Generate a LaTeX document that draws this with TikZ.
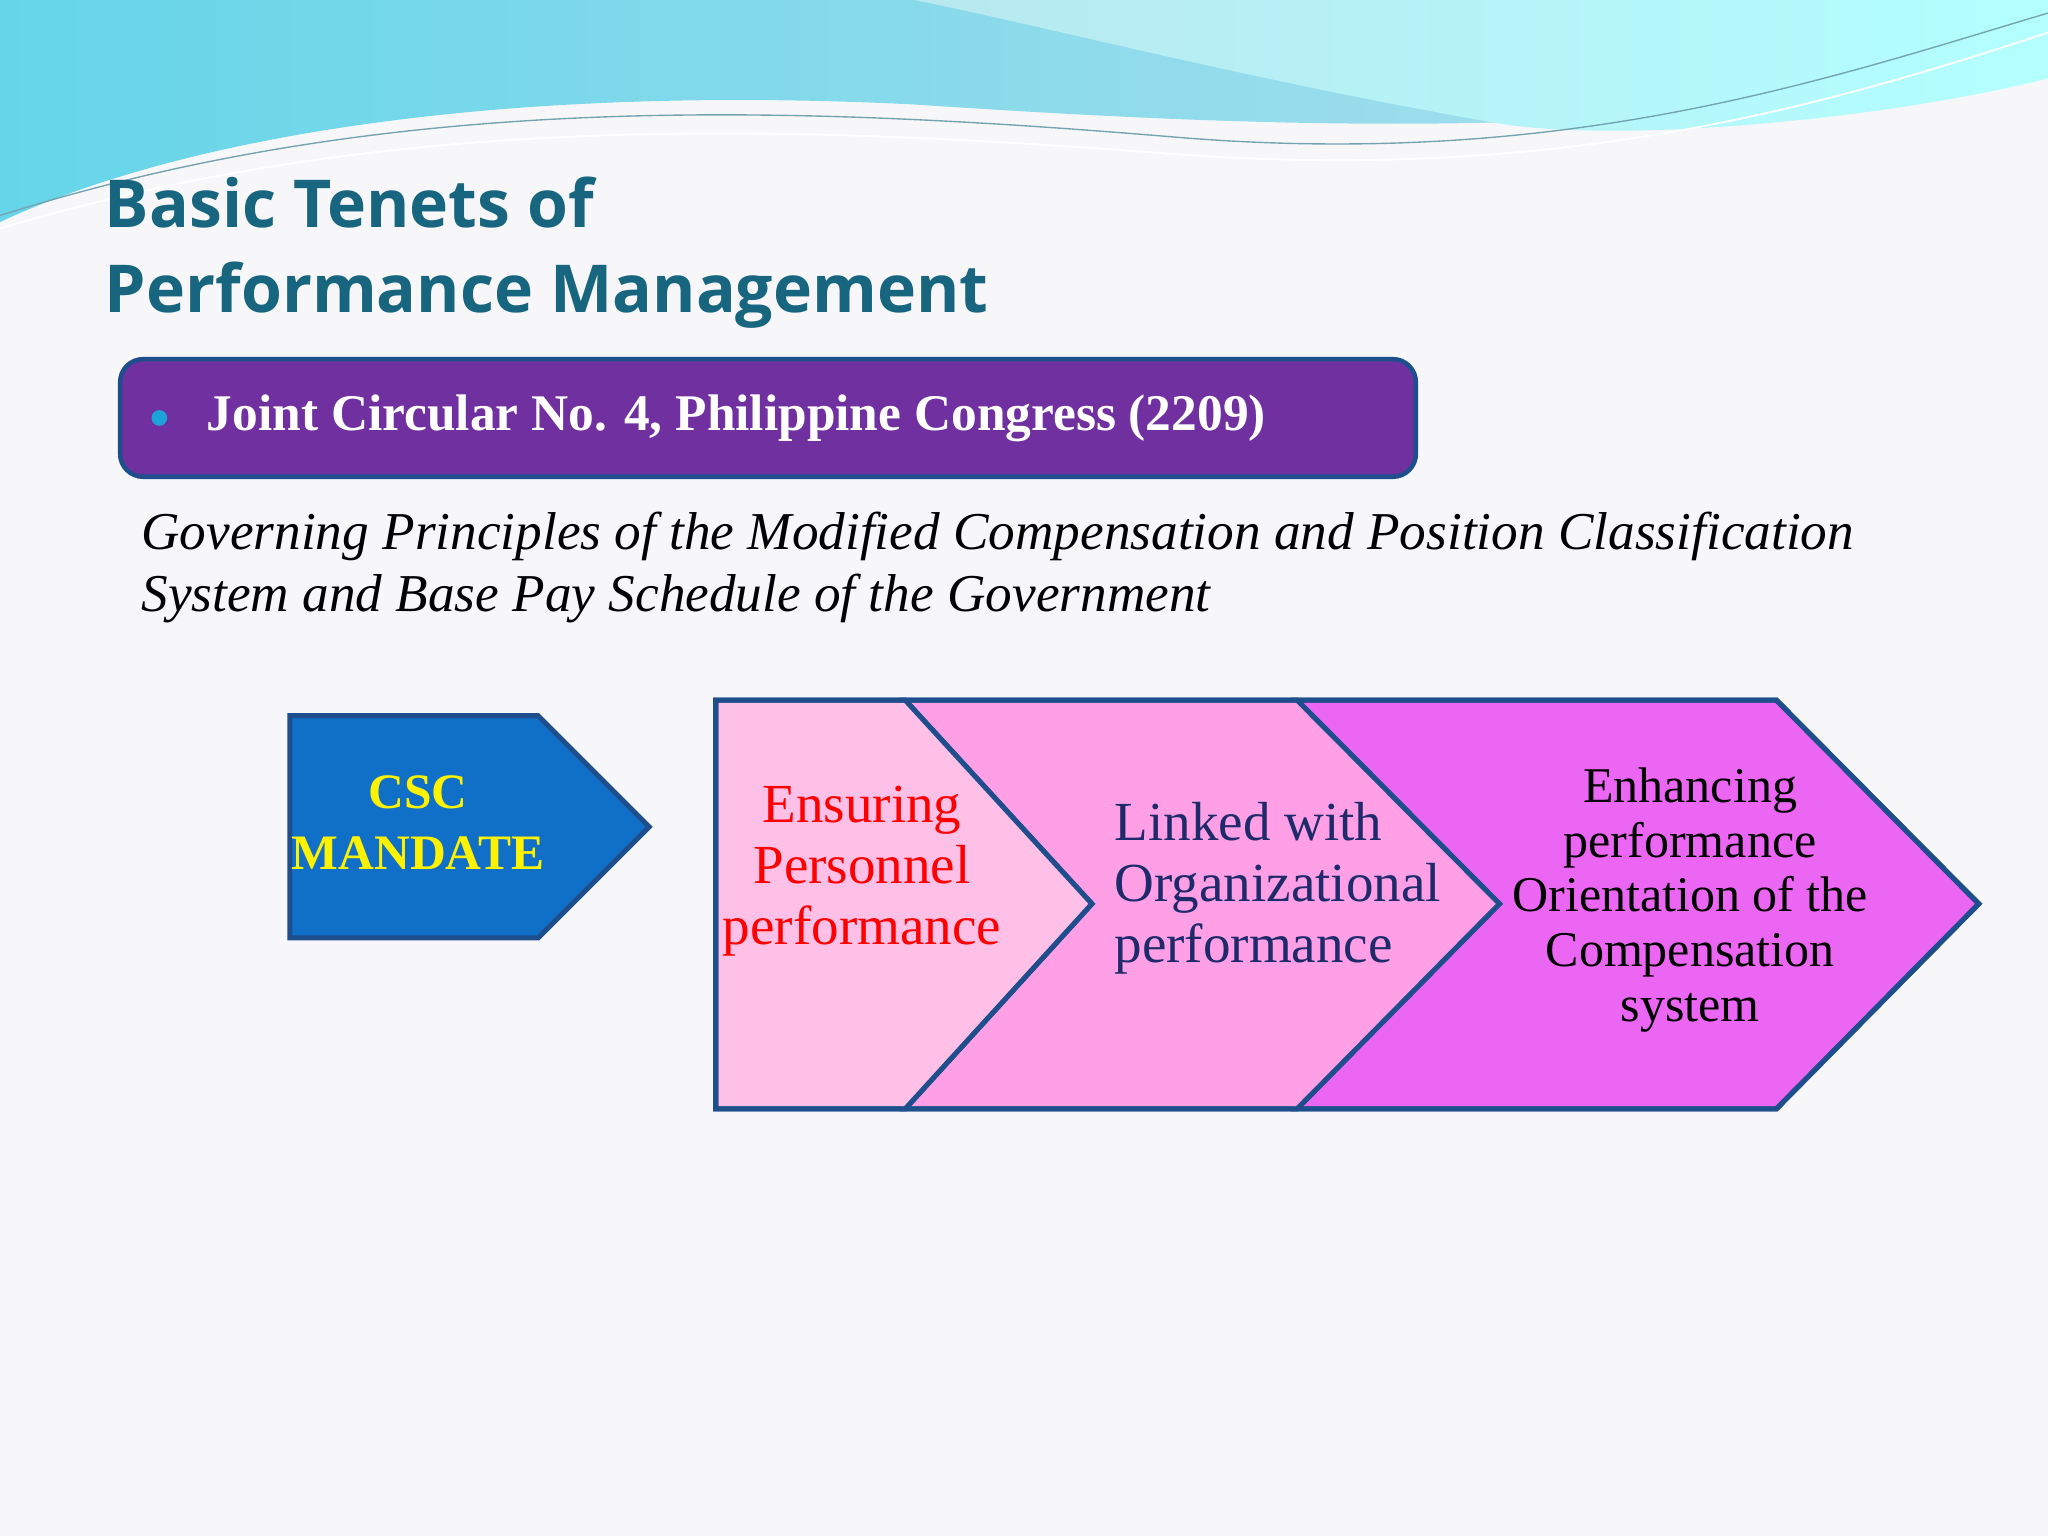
\documentclass[tikz,border=0pt]{standalone}
\usepackage{fontspec}
\setmainfont{Liberation Serif}
\newfontfamily\titlefont{Open Sans}
\usetikzlibrary{calc}
\definecolor{bg}{HTML}{F7F7FA}
\definecolor{teal}{HTML}{17657E}
\definecolor{purp}{HTML}{7030A0}
\definecolor{edge}{HTML}{1F4E8C}
\definecolor{cscblue}{HTML}{1070C8}
\definecolor{pink1}{HTML}{FFC0E8}
\definecolor{pink2}{HTML}{FFA0E6}
\definecolor{pink3}{HTML}{EC66F4}
\definecolor{navy}{HTML}{1F2A6B}
\definecolor{wave1}{HTML}{7FCBE3}
\definecolor{wave2}{HTML}{B8E8F0}
\tikzset{x=0.02cm,y=-0.02cm,
 seg/.style={draw=edge,line width=2.2pt,line join=miter},
 lbl/.style={font=\fontsize{24}{26.6}\selectfont,align=center,inner sep=0}}
\begin{document}
\begin{tikzpicture}
\fill[bg] (0,0) rectangle (1568,1176);
\useasboundingbox (0,0) rectangle (1568,1176);
% waves
\shade[left color=wave1!80!cyan,right color=wave1!60] (0,0) -- (1568,0) -- (1568,40) .. controls (1300,110) and (1000,100) .. (700,80) .. controls (400,65) and (150,100) .. (0,170) -- cycle;
\shade[left color=wave2,right color=cyan!30] (700,0) -- (1568,0) -- (1568,60) .. controls (1450,90) and (1250,110) .. (1150,95) .. controls (950,60) and (800,20) .. (700,0) -- cycle;
\draw[teal!60,line width=0.6pt] (0,165) .. controls (300,70) and (600,80) .. (900,105) .. controls (1200,130) and (1400,60) .. (1568,10);
\draw[white,line width=0.8pt] (0,175) .. controls (300,85) and (600,95) .. (900,118) .. controls (1200,140) and (1400,80) .. (1568,25);
% title
\node[anchor=west,text=teal,font=\titlefont\bfseries\fontsize{28.8}{34}\selectfont,inner sep=0] (t1) at (80,155) {Basic Tenets of};
\node[anchor=west,text=teal,font=\titlefont\bfseries\fontsize{28.8}{34}\selectfont,inner sep=0] (t2) at (80,226) {Performance Management};
% purple bar
\draw[fill=purp,draw=edge,line width=2pt,rounded corners=10] (92,275) rectangle (1084,365);
\fill[cyan!80!teal] (122,320) circle (6);
\node[anchor=west,text=white,font=\bfseries\fontsize{22.4}{26}\selectfont,inner sep=0] (jc) at (158,320) {Joint Circular No. 4, Philippine Congress (2209)};
\node[anchor=west,font=\itshape\fontsize{23.2}{26}\selectfont,inner sep=0] (g1) at (108,411) {Governing Principles of the Modified Compensation and Position Classification};
\node[anchor=west,font=\itshape\fontsize{23.2}{26}\selectfont,inner sep=0] (g2) at (108,458) {System and Base Pay Schedule of the Government};
% CSC arrow
\draw[seg,fill=cscblue] (222,548) -- (412,548) -- (497,633) -- (412,718) -- (222,718) -- cycle;
\node[lbl,text=yellow,font=\bfseries\fontsize{21.6}{26.6}\selectfont] (csc) at (320,630) {CSC\\MANDATE};
% chevrons
\draw[seg,fill=pink3] (993,536) -- (1360,536) -- (1515,692) -- (1360,849) -- (993,849) -- (1148,692) -- cycle;
\draw[seg,fill=pink2] (693,536) -- (993,536) -- (1148,692) -- (993,849) -- (693,849) -- (836,692) -- cycle;
\draw[seg,fill=pink1] (548,536) -- (693,536) -- (836,692) -- (693,849) -- (548,849) -- cycle;
\draw[seg] (548,536) -- (1360,536) -- (1515,692) -- (1360,849) -- (548,849) -- cycle;
\node[lbl,text=red] (e) at (660,667) {Ensuring\\Personnel\\performance};
\node[lbl,text=navy,align=left,anchor=west] (l) at (853,680) {Linked with\\Organizational\\performance};
\node[lbl,font=\fontsize{21.8}{23.8}\selectfont] (h) at (1294,689) {Enhancing\\performance\\Orientation of the\\Compensation\\system};
\end{tikzpicture}
\end{document}
